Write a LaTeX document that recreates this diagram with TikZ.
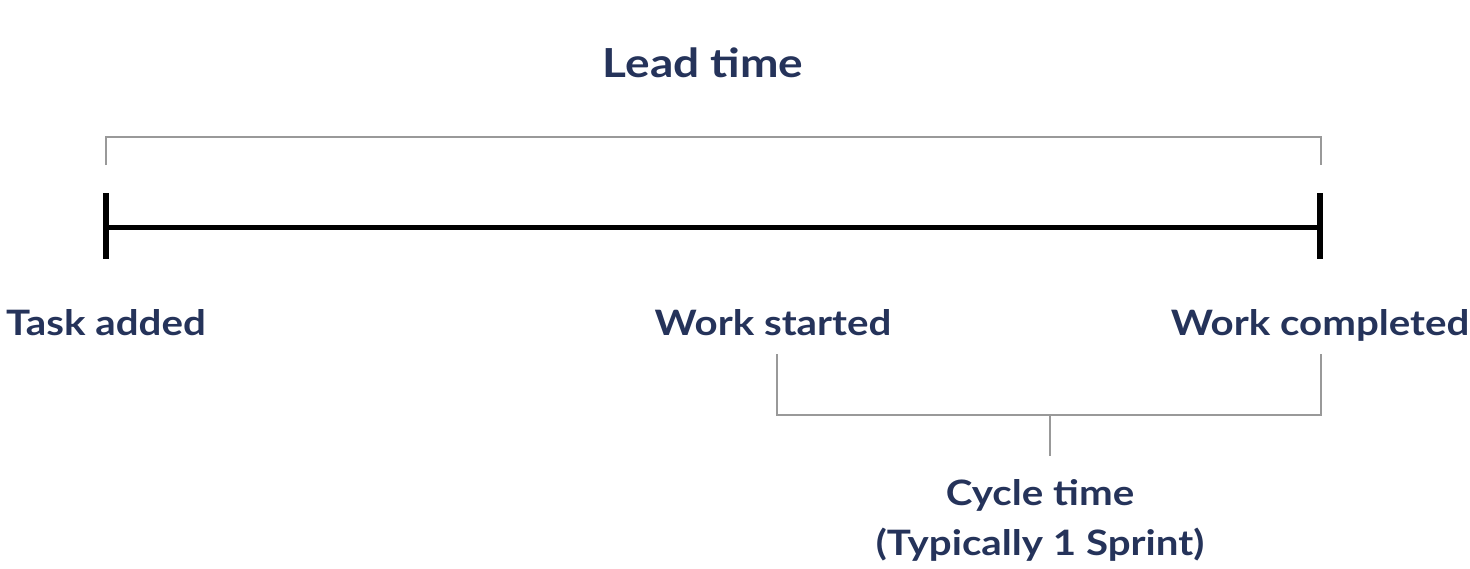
\documentclass[tikz,border=0pt]{standalone}
\usepackage{fontspec}
\setmainfont{Lato}[UprightFont=* Bold,FakeStretch=1.15]
\definecolor{navy}{HTML}{25335A}
\definecolor{brk}{HTML}{999999}
\begin{document}
\begin{tikzpicture}[x=1pt,y=-1pt,
  lbl/.style={text=navy,font=\fontsize{35}{40}\selectfont,inner sep=0pt,anchor=base},
  bracket/.style={draw=brk,line width=2pt},
  mainline/.style={draw=black,line width=5pt},
  tick/.style={draw=black,line width=6pt}]
\useasboundingbox (0,0) rectangle (1470,568);
% coordinates
\coordinate (L) at (106,227);
\coordinate (R) at (1320,227);
\coordinate (Ltop) at (106,193);
\coordinate (Lbot) at (106,259);
\coordinate (Rtop) at (1320,193);
\coordinate (Rbot) at (1320,259);
\coordinate (tb1) at (106,165);
\coordinate (tb2) at (106,137);
\coordinate (tb3) at (1321,137);
\coordinate (tb4) at (1321,165);
\coordinate (bb1) at (777,354);
\coordinate (bb2) at (777,415);
\coordinate (bb3) at (1321,415);
\coordinate (bb4) at (1321,354);
\coordinate (st1) at (1050,415);
\coordinate (st2) at (1050,456);
% texts
\node[lbl,font=\fontsize{40}{44}\selectfont] (lead) at (703,77) {Lead time};
\node[lbl] (task) at (106,335) {Task added};
\node[lbl] (ws) at (773,335) {Work started};
\node[lbl] (wc) at (1320,335) {Work completed};
\node[lbl] (cyc) at (1040,505) {Cycle time};
\node[lbl] (typ) at (1040,555) {(Typically 1 Sprint)};
% lines
\draw[bracket] (tb1) -- (tb2) -- (tb3) -- (tb4);
\draw[mainline] (L) -- (R);
\draw[tick] (Ltop) -- (Lbot);
\draw[tick] (Rtop) -- (Rbot);
\draw[bracket] (bb1) -- (bb2) -- (bb3) -- (bb4);
\draw[bracket] (st1) -- (st2);
\end{tikzpicture}
\end{document}
